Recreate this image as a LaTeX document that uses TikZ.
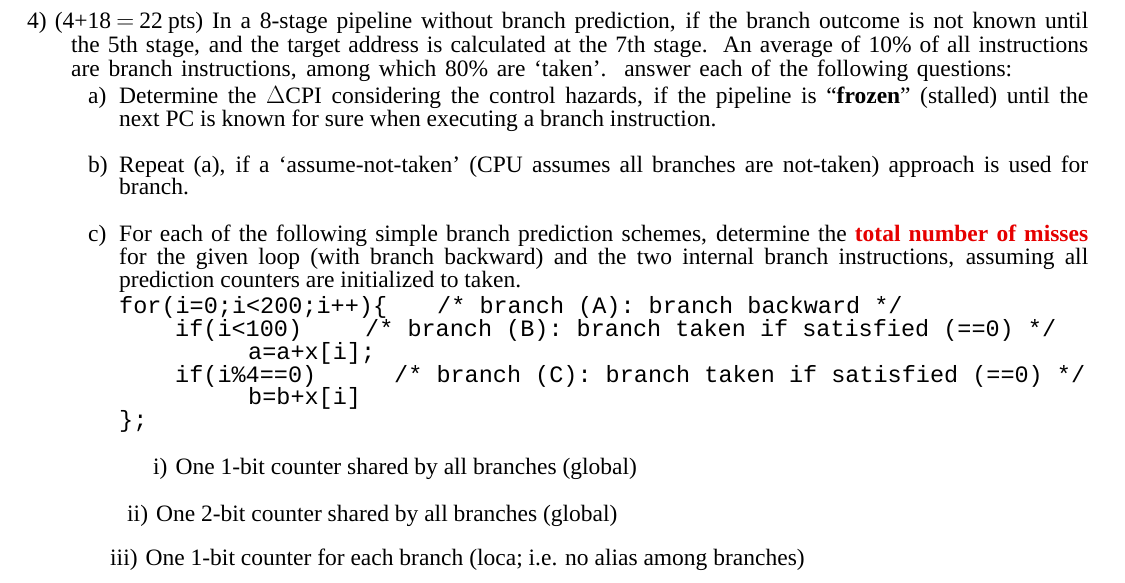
\documentclass[tikz,border=0pt]{standalone}
\usepackage{fontspec}
\setmainfont{Liberation Serif}
\setmonofont{Liberation Mono}
\definecolor{qred}{RGB}{230,0,0}
\newcommand{\jl}[2]{\hbox to #1pt{\spaceskip=0.22em plus 1em minus 0.12em\relax #2}}
\begin{document}
\begin{tikzpicture}[x=1pt,y=-1pt,
  t/.style={anchor=base west,inner sep=0pt,font=\fontsize{23.5}{24}\selectfont},
  c/.style={anchor=base west,inner sep=0pt,font=\ttfamily\fontsize{23.5}{24}\selectfont}]
\useasboundingbox[fill=white] (0,0) rectangle (1125,583);
\node[t] (l1) at (27,29) {\jl{1061}{4)\hspace{8pt}\mbox{(4+18 $=$ 22 pts)} In a 8-stage pipeline without branch prediction, if the branch outcome is not known until}};
\node[t] (l2) at (71,53) {\jl{1017}{the 5th stage, and the target address is calculated at the 7th stage. An average of 10\% of all instructions}};
\node[t] (l3) at (71,77) {\jl{941}{are branch instructions, among which 80\% are ‘taken’. answer each of the following questions:}};
\node[t] (a1) at (88,104) {a)};
\node[t] (a2) at (119,104) {\jl{969}{Determine the $\Delta$CPI considering the control hazards, if the pipeline is “\textbf{frozen}” (stalled) until the}};
\node[t] (a3) at (119,127) {next PC is known for sure when executing a branch instruction.};
\node[t] (b1) at (88,173) {b)};
\node[t] (b2) at (119,173) {\jl{969}{Repeat (a), if a ‘assume-not-taken’ (CPU assumes all branches are not-taken) approach is used for}};
\node[t] (b3) at (119,195) {branch.};
\node[t] (c1) at (88,241) {c)};
\node[t] (c2) at (119,241) {\jl{969}{For each of the following simple branch prediction schemes, determine the \textcolor{qred}{\textbf{total number of misses}}}};
\node[t] (c3) at (119,264) {\jl{969}{for the given loop (with branch backward) and the two internal branch instructions, assuming all}};
\node[t] (c4) at (119,287) {prediction counters are initialized to taken.};
\node[c] (k1) at (119,313) {for(i=0;i<200;i++)\{};
\node[c] (k1c) at (437,313) {/* branch (A): branch backward */};
\node[c] (k2) at (175,336) {if(i<100)};
\node[c] (k2c) at (365,336) {/* branch (B): branch taken if satisfied (==0) */};
\node[c] (k3) at (248,359) {a=a+x[i];};
\node[c] (k4) at (175,382) {if(i\%4==0)};
\node[c] (k4c) at (394,382) {/* branch (C): branch taken if satisfied (==0) */};
\node[c] (k5) at (248,404) {b=b+x[i]};
\node[c] (k6) at (119,427) {\};};
\node[t] (i1) at (153,474) {i)\hspace{8pt}One 1-bit counter shared by all branches (global)};
\node[t] (i2) at (127,521) {ii)\hspace{8pt}One 2-bit counter shared by all branches (global)};
\node[t] (i3) at (110,565) {iii)\hspace{8pt}One 1-bit counter for each branch (loca; i.e. no alias among branches)};
\end{tikzpicture}
\end{document}
